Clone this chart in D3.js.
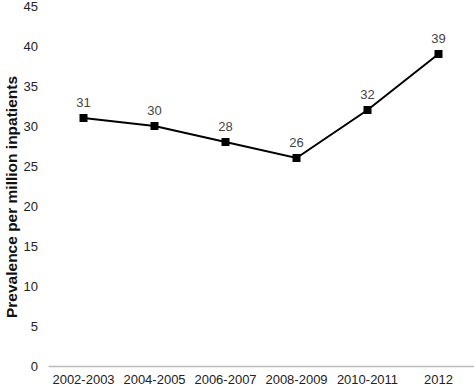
<!DOCTYPE html>
<html>
<head>
<meta charset="utf-8">
<script src="https://cdn.jsdelivr.net/npm/d3@7"></script>
<style>
  body { margin: 0; background: #fff; }
  text { font-family: "Liberation Sans", Arial, sans-serif; }
</style>
</head>
<body>
<div class="chart"></div>
<script>
// periods and prevalence values
const periods = ['2002-2003', '2004-2005', '2006-2007', '2008-2009', '2010-2011', '2012'];
const prevalence = [31, 30, 28, 26, 32, 39];
const yTicks = [0, 5, 10, 15, 20, 25, 30, 35, 40, 45];

const data = periods.map((p, i) => ({period: p, value: prevalence[i]}));

const width = 474, height = 390;
const margin = {top: 6, right: 0, bottom: 24, left: 48};

const svg = d3.select('.chart')
  .append('svg')
  .attr('width', width)
  .attr('height', height);

const x = d3.scaleBand()
  .domain(periods)
  .range([margin.left, width - margin.right]);

const y = d3.scaleLinear()
  .domain([0, 45])
  .range([height - margin.bottom, margin.top]);

// y axis: labels only, no line
const yAxis = svg.append('g')
  .attr('transform', `translate(${margin.left},0)`)
  .call(d3.axisLeft(y).tickValues(yTicks).tickSize(0).tickPadding(10));
yAxis.select('.domain').remove();
yAxis.selectAll('text')
  .style('font-size', '13px')
  .attr('fill', '#222');

// x axis with grey baseline
const xAxis = svg.append('g')
  .attr('transform', `translate(0,${y(0)})`)
  .call(d3.axisBottom(x).tickSize(0).tickPadding(9));
xAxis.select('.domain')
  .attr('stroke', '#bdbdbd')
  .attr('stroke-width', 1.5);
xAxis.selectAll('text')
  .style('font-size', '13px')
  .attr('fill', '#222');

svg.append('text')
  .attr('transform', `translate(17,197) rotate(-90)`)
  .attr('text-anchor', 'middle')
  .style('font-size', '15.5px')
  .style('font-weight', 'bold')
  .attr('fill', '#111')
  .text('Prevalence per million inpatients');

const cx = d => x(d.period) + x.bandwidth() / 2;

const line = d3.line()
  .x(cx)
  .y(d => y(d.value));

svg.append('path')
  .datum(data)
  .attr('fill', 'none')
  .attr('stroke', '#000')
  .attr('stroke-width', 2)
  .attr('d', line);

svg.selectAll('.marker')
  .data(data)
  .enter()
  .append('rect')
  .attr('class', 'marker')
  .attr('x', d => cx(d) - 4)
  .attr('y', d => y(d.value) - 4)
  .attr('width', 8)
  .attr('height', 8)
  .attr('fill', '#000');

svg.selectAll('.val')
  .data(data)
  .enter()
  .append('text')
  .attr('class', 'val')
  .attr('x', cx)
  .attr('y', d => y(d.value) - 11)
  .attr('text-anchor', 'middle')
  .style('font-size', '13px')
  .attr('fill', '#444')
  .text(d => d.value);
</script>
</body>
</html>
